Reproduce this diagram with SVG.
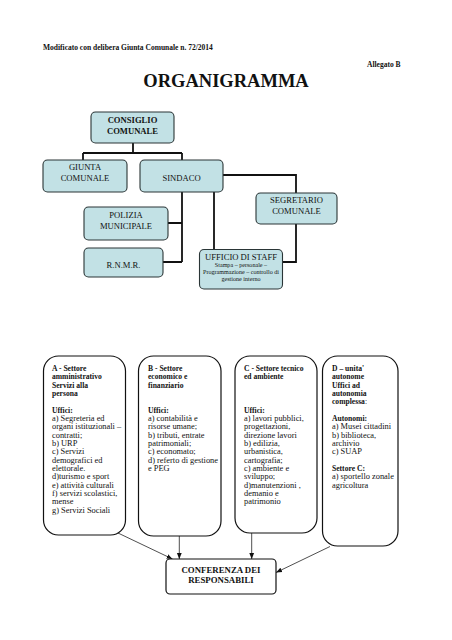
<svg xmlns="http://www.w3.org/2000/svg" width="452" height="640" viewBox="0 0 452 640">
<style>
text{font-family:"Liberation Serif","Times New Roman",serif;fill:#111}
.b{font-weight:bold}
.top rect{fill:#c2e1e5;stroke:#2a3536;stroke-width:1.1}
.tt{font-size:8.6px;text-anchor:middle}
.sm{font-size:12.2px;text-anchor:middle}
.sec rect{fill:#fff;stroke:#111;stroke-width:1.2}
.st{font-size:8.4px}
.sb{font-size:7.6px;font-weight:bold}
.con{fill:none;stroke:#111;stroke-width:1.8}
.arr{fill:none;stroke:#222;stroke-width:0.8}
</style>
<defs>
<marker id="ah" viewBox="0 0 10 10" refX="10" refY="5" markerWidth="6" markerHeight="6" orient="auto" markerUnits="userSpaceOnUse"><path d="M0,1 L10,5 L0,9 z" fill="#111"/></marker>
</defs>
<text class="b" x="43" y="50" font-size="7.5">Modificato con delibera Giunta Comunale n. 72/2014</text>
<text class="b" x="367" y="67" font-size="7.5">Allegato B</text>
<text class="b" x="226" y="87" font-size="18.5" text-anchor="middle">ORGANIGRAMMA</text>
<g id="connectors">
<path class="con" d="M133,143 V153 M83,153 H182 M83,153 V160 M182,153 V160"/>
<path class="con" d="M223,175 H296 V193"/>
<path class="con" d="M182,192 V262 M168,223 H182 M163,262 H182"/>
<path class="con" d="M214,192 V250"/>
<path class="con" d="M296,224 V262 H283"/>
<path class="arr" marker-end="url(#ah)" d="M118,533 L172.5,559"/>
<path class="arr" marker-end="url(#ah)" d="M179.3,535 V559"/>
<path class="arr" marker-end="url(#ah)" d="M251.7,533 V559"/>
<path class="arr" marker-end="url(#ah)" d="M330,546.5 L276,572.5"/>
</g>
<g id="consiglio" class="top"><rect x="91" y="112" width="83" height="31" rx="4.5"/><text class="tt b" x="132.5" y="122.5" font-size="8.8">CONSIGLIO</text><text class="tt b" x="132.5" y="133.5" font-size="8.8">COMUNALE</text></g>
<g id="giunta" class="top"><rect x="43" y="160" width="84" height="32" rx="4.5"/><text class="tt" x="85" y="170">GIUNTA</text><text class="tt" x="85" y="181">COMUNALE</text></g>
<g id="sindaco" class="top"><rect x="140" y="160" width="83" height="32" rx="4.5"/><text class="tt" x="181.5" y="180.5">SINDACO</text></g>
<g id="segretario" class="top"><rect x="256" y="193" width="81" height="31" rx="4.5"/><text class="tt" x="296.5" y="203">SEGRETARIO</text><text class="tt" x="296.5" y="214">COMUNALE</text></g>
<g id="polizia" class="top"><rect x="84" y="207" width="84" height="33" rx="4.5"/><text class="tt" x="126" y="218">POLIZIA</text><text class="tt" x="126" y="229">MUNICIPALE</text></g>
<g id="rnmr" class="top"><rect x="84" y="248" width="79" height="29" rx="4.5"/><text class="tt" x="123.5" y="268">R.N.M.R.</text></g>
<g id="staff" class="top"><rect x="199.5" y="249.5" width="83" height="39.5" rx="4.5"/><text class="tt" x="241" y="259.5" font-size="9.4">UFFICIO DI STAFF</text>
<g transform="scale(0.5)"><text class="sm" x="482" y="533.6">Stampa – personale –</text><text class="sm" x="482" y="547.4">Programmazione – controllo di</text><text class="sm" x="482" y="561.6">gestione interno</text></g></g>
<g id="settore-a" class="sec"><rect x="43.5" y="356" width="82" height="179" rx="15"/>
<text class="sb" x="52" y="371">A - Settore</text>
<text class="sb" x="52" y="379.3">amministrativo</text>
<text class="sb" x="52" y="387.7">Servizi alla</text>
<text class="sb" x="52" y="396">persona</text>
<text class="sb" x="52" y="412.7">Uffici:</text>
<text class="st" x="52" y="421">a) Segreteria ed</text>
<text class="st" x="52" y="429.3">organi istituzionali –</text>
<text class="st" x="52" y="437.7">contratti;</text>
<text class="st" x="52" y="446">b) URP</text>
<text class="st" x="52" y="454.3">c) Servizi</text>
<text class="st" x="52" y="462.7">demografici ed</text>
<text class="st" x="52" y="471">elettorale.</text>
<text class="st" x="52" y="479.3">d)turismo e sport</text>
<text class="st" x="52" y="487.7">e) attività culturali</text>
<text class="st" x="52" y="496">f) servizi scolastici,</text>
<text class="st" x="52" y="504.3">mense</text>
<text class="st" x="52" y="512.7">g) Servizi Sociali</text>
</g>
<g id="settore-b" class="sec"><rect x="138.5" y="356" width="82.5" height="180" rx="15"/>
<text class="sb" x="148" y="371">B - Settore</text>
<text class="sb" x="148" y="379.3">economico e</text>
<text class="sb" x="148" y="387.7">finanziario</text>
<text class="sb" x="148" y="412.7">Uffici:</text>
<text class="st" x="148" y="421">a) contabilità e</text>
<text class="st" x="148" y="429.3">risorse umane;</text>
<text class="st" x="148" y="437.7">b) tributi, entrate</text>
<text class="st" x="148" y="446">patrimoniali;</text>
<text class="st" x="148" y="454.3">c) economato;</text>
<text class="st" x="148" y="462.7">d) referto di gestione</text>
<text class="st" x="148" y="471">e PEG</text>
</g>
<g id="settore-c" class="sec"><rect x="235" y="356" width="82" height="177" rx="15"/>
<text class="sb" x="244" y="371">C - Settore tecnico</text>
<text class="sb" x="244" y="379.3">ed ambiente</text>
<text class="sb" x="244" y="412.7">Uffici:</text>
<text class="st" x="244" y="421">a) lavori pubblici,</text>
<text class="st" x="244" y="429.3">progettazioni,</text>
<text class="st" x="244" y="437.7">direzione lavori</text>
<text class="st" x="244" y="446">b) edilizia,</text>
<text class="st" x="244" y="454.3">urbanistica,</text>
<text class="st" x="244" y="462.7">cartografia;</text>
<text class="st" x="244" y="471">c) ambiente e</text>
<text class="st" x="244" y="479.3">sviluppo;</text>
<text class="st" x="244" y="487.7">d)manutenzioni ,</text>
<text class="st" x="244" y="496">demanio e</text>
<text class="st" x="244" y="504.3">patrimonio</text>
</g>
<g id="settore-d" class="sec"><rect x="322.5" y="356" width="75.5" height="190" rx="15"/>
<text class="sb" x="332" y="371">D – unita'</text>
<text class="sb" x="332" y="379.3">autonome</text>
<text class="sb" x="332" y="387.7">Uffici ad</text>
<text class="sb" x="332" y="396">autonomia</text>
<text class="sb" x="332" y="404.3">complessa<tspan font-weight="normal">:</tspan></text>
<text class="sb" x="332" y="421">Autonomi:</text>
<text class="st" x="332" y="429.3">a) Musei cittadini</text>
<text class="st" x="332" y="437.7">b) biblioteca,</text>
<text class="st" x="332" y="446">archivio</text>
<text class="st" x="332" y="454.3">c) SUAP</text>
<text class="sb" x="332" y="471">Settore C:</text>
<text class="st" x="332" y="479.3">a) sportello zonale</text>
<text class="st" x="332" y="487.7">agricoltura</text>
</g>
<g id="conferenza" class="sec"><rect x="166" y="559" width="110" height="35" rx="4"/><text class="b" x="221" y="572.5" font-size="8.8" text-anchor="middle">CONFERENZA DEI</text><text class="b" x="221" y="583" font-size="8.8" text-anchor="middle">RESPONSABILI</text></g>
</svg>
